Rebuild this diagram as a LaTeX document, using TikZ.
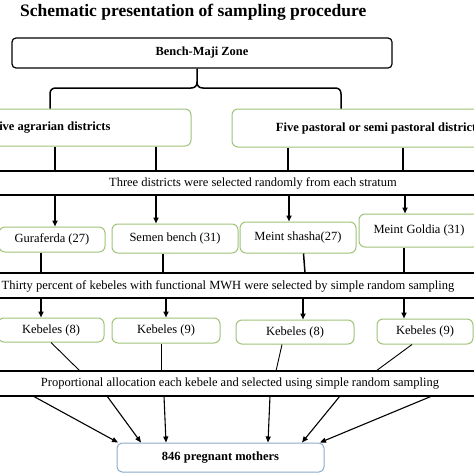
\documentclass[tikz,border=0pt]{standalone}
\usepackage{fontspec}
\setmainfont{Liberation Serif}
\usetikzlibrary{arrows.meta}
\definecolor{boxgreen}{RGB}{160,195,120}
\definecolor{boxblue}{RGB}{140,170,200}
\tikzset{
  gbox/.style={draw=boxgreen, line width=1pt, rounded corners=6pt, inner sep=0pt, font=\fontsize{12.5}{14}\selectfont},
  zonebox/.style={draw=black, line width=1.2pt, rounded corners=4pt, inner sep=0pt, font=\bfseries\fontsize{12.4}{14}\selectfont},
  bbox/.style={draw=boxblue, line width=1pt, rounded corners=5pt, inner sep=0pt, font=\bfseries\fontsize{12.5}{14}\selectfont},
  bandtext/.style={inner sep=0pt, font=\fontsize{12.5}{14}\selectfont},
  bandline/.style={line width=1.3pt},
  conn/.style={line width=1.5pt},
  thin/.style={line width=0.9pt},
  arr/.style={line width=1.5pt, -{Triangle[length=6pt,width=5pt]}},
  arrb/.style={line width=1.1pt, -{Triangle[length=6pt,width=5pt]}}
}
\begin{document}
\begin{tikzpicture}[x=1pt,y=-1pt]
\useasboundingbox (0,0) rectangle (474,474);
\clip (0,0) rectangle (474,474);
\fill[white] (0,0) rectangle (474,474);

% title
\node[inner sep=0pt, anchor=west, font=\bfseries\fontsize{17.5}{20}\selectfont] (title) at (20,12) {Schematic presentation of sampling procedure};

% zone
\node[zonebox, minimum width=380pt, minimum height=30pt] (zone) at (202,53) {Bench-Maji Zone};

% strata boxes
\node[gbox, font=\bfseries\fontsize{12.5}{14}\selectfont, minimum width=280pt, minimum height=37pt] (agr) at (51,127.5) {Five agrarian districts};
\node[gbox, font=\bfseries\fontsize{12.5}{14}\selectfont, minimum width=293pt, minimum height=38pt] (past) at (378.5,128) {Five pastoral or semi pastoral districts};

% brace
\coordinate (bc) at (197,68);
\draw[conn] (zone.south -| bc) -- (197,82) .. controls (197,86) and (195,88) .. (191,88) -- (56,88) .. controls (52,88) and (50,90) .. (50,94) -- (agr.north -| 50,0);
\draw[conn] (197,82) .. controls (197,86) and (199,88) .. (203,88) -- (335,88) .. controls (339,88) and (341,90) .. (341,94) -- (past.north -| 341,0);

% band 1
\draw[bandline] (0,171) -- (474,171);
\draw[bandline] (0,195) -- (474,195);
\node[bandtext] (band1) at (253,183) {Three districts were selected randomly from each stratum};

% band 2
\draw[bandline] (0,273) -- (474,273);
\draw[bandline] (0,298) -- (474,298);
\node[bandtext] (band2) at (228,286) {Thirty percent of kebeles with functional MWH were selected by simple random sampling};

% band 3
\draw[bandline] (0,371) -- (474,371);
\draw[bandline] (0,396) -- (474,396);
\node[bandtext] (band3) at (240,384) {Proportional allocation each kebele and selected using simple random sampling};

% row 2
\node[gbox, minimum width=106pt, minimum height=25pt] (g1) at (52,239.5) {Guraferda (27)};
\node[gbox, minimum width=126pt, minimum height=29pt] (g2) at (175,238.5) {Semen bench (31)};
\node[gbox, minimum width=116pt, minimum height=31pt] (g3) at (298,237.5) {Meint shasha(27)};
\node[gbox, minimum width=120pt, minimum height=33pt] (g4) at (419,230.5) {Meint Goldia (31)};

% row 3
\node[gbox, minimum width=106pt, minimum height=24pt] (k1) at (51,330) {Kebeles (8)};
\node[gbox, minimum width=108pt, minimum height=25pt] (k2) at (166,330.5) {Kebeles (9)};
\node[gbox, minimum width=118pt, minimum height=24pt] (k3) at (295,332) {Kebeles (8)};
\node[gbox, minimum width=96pt, minimum height=25pt] (k4) at (425,331.5) {Kebeles (9)};

% target
\node[bbox, minimum width=207pt, minimum height=29pt] (target) at (220.5,457.5) {846 pregnant mothers};

% strata -> band1
\coordinate (s1) at (55,171);
\coordinate (s2) at (156,171);
\coordinate (s3) at (288,171);
\coordinate (s4) at (403,171);
\draw[conn] (agr.south -| s1) -- (s1);
\draw[conn] (agr.south -| s2) -- (s2);
\draw[conn] (past.south -| s3) -- (s3);
\draw[conn] (past.south -| s4) -- (s4);

% band1 -> row2
\coordinate (a1) at (55,195);
\coordinate (a2) at (156,195);
\coordinate (a3) at (289,195);
\coordinate (a4) at (405,195);
\draw[arr] (a1) -- (a1 |- g1.north);
\draw[arr] (a2) -- (a2 |- g2.north);
\draw[arr] (a3) -- (a3 |- g3.north);
\draw[arr] (a4) -- (a4 |- g4.north);

% row2 -> band2
\coordinate (t1) at (41,273);
\coordinate (t2) at (163,273);
\coordinate (t3) at (305,273);
\coordinate (t4) at (404,273);
\draw[conn] (t1 |- g1.south) -- (t1);
\draw[conn] (t2 |- g2.south) -- (t2);
\draw[conn] ([xshift=-1.5pt]t3 |- g3.south) -- (t3);
\draw[conn] (t4 |- g4.south) -- (t4);

% band2 -> row3
\coordinate (b1) at (41,298);
\coordinate (b2) at (166,298);
\coordinate (b3) at (303,298);
\coordinate (b4) at (404,298);
\draw[arr] (b1) -- (b1 |- k1.north);
\draw[arr] (b2) -- (b2 |- k2.north);
\draw[arr] (b3) -- (b3 |- k3.north);
\draw[arr] (b4) -- (b4 |- k4.north);

% row3 -> band3
\coordinate (c1) at (80,371);
\coordinate (c2) at (161,371);
\coordinate (c3) at (276,371);
\coordinate (c4) at (376,371);
\draw[thin] ([xshift=0pt]k1.south) -- (c1);
\draw[thin] ([xshift=-5pt]k2.south) -- (c2);
\draw[thin] ([xshift=-13pt]k3.south) -- (c3);
\draw[thin] ([xshift=-13pt]k4.south) -- (c4);

% band3 -> target
\coordinate (d1) at (33,396);
\coordinate (d2) at (107,396);
\coordinate (d3) at (164,396);
\coordinate (d4) at (270,396);
\coordinate (d5) at (340,396);
\coordinate (d6) at (432,396);
\draw[arrb] (d1) -- ([xshift=-102.5pt]target.north);
\draw[arrb] (d2) -- ([xshift=-79.5pt]target.north);
\draw[arrb] (d3) -- ([xshift=-54.5pt]target.north);
\draw[arrb] (d4) -- ([xshift=47.5pt]target.north);
\draw[arrb] (d5) -- ([xshift=81.5pt]target.north);
\draw[arrb] (d6) -- ([xshift=99.5pt]target.north);
\end{tikzpicture}
\end{document}
